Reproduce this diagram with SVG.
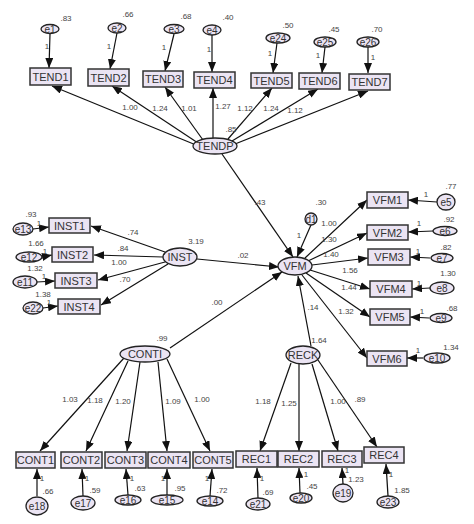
<svg xmlns="http://www.w3.org/2000/svg" width="474" height="524" viewBox="0 0 474 524">
<defs>
<marker id="ah" markerUnits="userSpaceOnUse" markerWidth="10" markerHeight="8" refX="10" refY="4" orient="auto"><path d="M0,0 L10,4 L0,8 Z" fill="#111"/></marker>
<style>
.b{fill:#ebe4f3;stroke:#333;stroke-width:1.5}
.o{fill:#ebe4f3;stroke:#222;stroke-width:1.3}
.t{font-family:"Liberation Sans",Arial,sans-serif;font-size:11px;fill:#333;text-anchor:middle;dominant-baseline:central}
.e{font-family:"Liberation Sans",Arial,sans-serif;font-size:10px;fill:#333;text-anchor:middle;dominant-baseline:central}
.l{font-family:"Liberation Sans",Arial,sans-serif;font-size:8px;fill:#444;text-anchor:middle;dominant-baseline:central}
.c line{stroke:#111;stroke-width:1.2;marker-end:url(#ah)}
</style>
</defs>
<rect width="474" height="524" fill="#fff"/>
<g class="c" id="connectors">
<line x1="50" y1="34" x2="49" y2="68"/>
<line x1="117" y1="33" x2="110" y2="69"/>
<line x1="174" y1="34" x2="165" y2="71"/>
<line x1="212" y1="35" x2="212" y2="72"/>
<line x1="277" y1="43" x2="273" y2="73"/>
<line x1="325" y1="47" x2="322" y2="73"/>
<line x1="368" y1="47" x2="368" y2="73"/>
<line x1="196" y1="145" x2="52" y2="86"/>
<line x1="198" y1="143" x2="112" y2="86"/>
<line x1="203" y1="140" x2="165" y2="87"/>
<line x1="213" y1="138" x2="213" y2="88"/>
<line x1="228" y1="139" x2="272" y2="88"/>
<line x1="232" y1="141" x2="318" y2="89"/>
<line x1="235" y1="144" x2="368" y2="91"/>
<line x1="222" y1="154" x2="293" y2="257"/>
<line x1="311" y1="225" x2="297" y2="257"/>
<line x1="197" y1="259" x2="279" y2="267"/>
<line x1="170" y1="348" x2="282" y2="272"/>
<line x1="311" y1="346" x2="298" y2="276"/>
<line x1="305" y1="258" x2="367" y2="200"/>
<line x1="308" y1="261" x2="367" y2="233"/>
<line x1="312" y1="265" x2="368" y2="258"/>
<line x1="310" y1="270" x2="370" y2="289"/>
<line x1="306" y1="273" x2="370" y2="317"/>
<line x1="302" y1="275" x2="367" y2="358"/>
<line x1="437" y1="202" x2="408" y2="200"/>
<line x1="433" y1="231" x2="408" y2="232"/>
<line x1="430" y1="258" x2="410" y2="257"/>
<line x1="430" y1="288" x2="412" y2="289"/>
<line x1="429" y1="318" x2="410" y2="317"/>
<line x1="423" y1="358" x2="407" y2="358"/>
<line x1="165" y1="252" x2="91" y2="226"/>
<line x1="163" y1="257" x2="94" y2="255"/>
<line x1="165" y1="262" x2="98" y2="280"/>
<line x1="168" y1="264" x2="101" y2="305"/>
<line x1="33" y1="229" x2="49" y2="227"/>
<line x1="42" y1="257" x2="52" y2="255"/>
<line x1="37" y1="282" x2="55" y2="281"/>
<line x1="43" y1="308" x2="58" y2="306"/>
<line x1="124" y1="358" x2="40" y2="451"/>
<line x1="128" y1="361" x2="86" y2="451"/>
<line x1="140" y1="362" x2="127" y2="451"/>
<line x1="158" y1="362" x2="167" y2="451"/>
<line x1="167" y1="359" x2="210" y2="451"/>
<line x1="37" y1="496" x2="37" y2="469"/>
<line x1="83" y1="496" x2="82" y2="469"/>
<line x1="128" y1="495" x2="126" y2="469"/>
<line x1="167" y1="495" x2="167" y2="469"/>
<line x1="210" y1="496" x2="212" y2="469"/>
<line x1="291" y1="363" x2="260" y2="451"/>
<line x1="299" y1="364" x2="299" y2="451"/>
<line x1="312" y1="364" x2="338" y2="451"/>
<line x1="318" y1="360" x2="377" y2="447"/>
<line x1="258" y1="498" x2="257" y2="468"/>
<line x1="300" y1="493" x2="299" y2="468"/>
<line x1="343" y1="484" x2="342" y2="468"/>
<line x1="388" y1="496" x2="386" y2="464"/>
</g>
<g id="TEND1"><rect class="b" x="30" y="68" width="41" height="17"/><text class="t" x="50.5" y="76.5">TEND1</text></g>
<g id="TEND2"><rect class="b" x="88" y="69" width="41" height="17"/><text class="t" x="108.5" y="77.5">TEND2</text></g>
<g id="TEND3"><rect class="b" x="143" y="71" width="40" height="16"/><text class="t" x="163" y="79">TEND3</text></g>
<g id="TEND4"><rect class="b" x="194" y="72" width="41" height="16"/><text class="t" x="214.5" y="80">TEND4</text></g>
<g id="TEND5"><rect class="b" x="251" y="73" width="41" height="15"/><text class="t" x="271.5" y="80.5">TEND5</text></g>
<g id="TEND6"><rect class="b" x="299" y="73" width="41" height="16"/><text class="t" x="319.5" y="81">TEND6</text></g>
<g id="TEND7"><rect class="b" x="349" y="74" width="41" height="16"/><text class="t" x="369.5" y="82">TEND7</text></g>
<g id="e1"><ellipse class="o" cx="50" cy="29" rx="9" ry="4.5"/><text class="e" x="50" y="29">e1</text><text class="l" x="66" y="18">.83</text><text class="l" x="47" y="46">1</text></g>
<g id="e2"><ellipse class="o" cx="117" cy="28" rx="9" ry="5"/><text class="e" x="117" y="28">e2</text><text class="l" x="128" y="14">.66</text><text class="l" x="109" y="46">1</text></g>
<g id="e3"><ellipse class="o" cx="174" cy="29" rx="10" ry="4.5"/><text class="e" x="174" y="29">e3</text><text class="l" x="186" y="16">.68</text><text class="l" x="164" y="47">1</text></g>
<g id="e4"><ellipse class="o" cx="212" cy="30" rx="9" ry="5"/><text class="e" x="212" y="30">e4</text><text class="l" x="228" y="17">.40</text><text class="l" x="209" y="49">1</text></g>
<g id="e24"><ellipse class="o" cx="278" cy="38" rx="12" ry="5"/><text class="e" x="278" y="38">e24</text><text class="l" x="288" y="25">.50</text><text class="l" x="270" y="53">1</text></g>
<g id="e25"><ellipse class="o" cx="325" cy="42" rx="11" ry="5"/><text class="e" x="325" y="42">e25</text><text class="l" x="334" y="29">.45</text><text class="l" x="318" y="55">1</text></g>
<g id="e26"><ellipse class="o" cx="368" cy="42" rx="11" ry="5"/><text class="e" x="368" y="42">e26</text><text class="l" x="377" y="29">.70</text><text class="l" x="373" y="57">1</text></g>
<g id="TENDP"><ellipse class="o" cx="215" cy="146" rx="22" ry="8"/><text class="t" x="215" y="146">TENDP</text><text class="l" x="231" y="129">.85</text></g>
<g id="tend-labels">
<text class="l" x="130" y="107">1.00</text><text class="l" x="160" y="108">1.24</text><text class="l" x="189" y="108">1.01</text><text class="l" x="223" y="106">1.27</text><text class="l" x="245" y="108">1.12</text><text class="l" x="271" y="108">1.24</text><text class="l" x="295" y="110">1.12</text>
<text class="l" x="260" y="202">.43</text><text class="l" x="243" y="255">.02</text><text class="l" x="217" y="302">.00</text><text class="l" x="313" y="307">.14</text>
</g>
<g id="VFM"><ellipse class="o" cx="295" cy="266" rx="17" ry="9"/><text class="t" x="295" y="266">VFM</text></g>
<g id="d1"><ellipse class="o" cx="311" cy="219" rx="6" ry="6"/><text class="e" x="311" y="219">d1</text><text class="l" x="321" y="202">.30</text><text class="l" x="299" y="235">1</text></g>
<g id="VFM1"><rect class="b" x="367" y="192" width="41" height="16"/><text class="t" x="387.5" y="200">VFM1</text></g>
<g id="VFM2"><rect class="b" x="367" y="225" width="41" height="15"/><text class="t" x="387.5" y="232.5">VFM2</text></g>
<g id="VFM3"><rect class="b" x="368" y="249" width="42" height="16"/><text class="t" x="389" y="257">VFM3</text></g>
<g id="VFM4"><rect class="b" x="370" y="281" width="42" height="16"/><text class="t" x="391" y="289">VFM4</text></g>
<g id="VFM5"><rect class="b" x="370" y="309" width="40" height="16"/><text class="t" x="390" y="317">VFM5</text></g>
<g id="VFM6"><rect class="b" x="367" y="351" width="40" height="15"/><text class="t" x="387" y="358.5">VFM6</text></g>
<g id="vfm-labels">
<text class="l" x="329" y="223">1.00</text><text class="l" x="329" y="239">1.30</text><text class="l" x="331" y="254">1.40</text><text class="l" x="350" y="270">1.56</text><text class="l" x="349" y="287">1.44</text><text class="l" x="346" y="311">1.32</text>
</g>
<g id="e5"><ellipse class="o" cx="446" cy="202" rx="9" ry="8"/><text class="e" x="446" y="202">e5</text><text class="l" x="451" y="186">.77</text><text class="l" x="426" y="194">1</text></g>
<g id="e6"><ellipse class="o" cx="445" cy="231" rx="12" ry="4.5"/><text class="e" x="445" y="231">e6</text><text class="l" x="449" y="219">.92</text><text class="l" x="419" y="223">1</text></g>
<g id="e7"><ellipse class="o" cx="442" cy="258" rx="11" ry="4.5"/><text class="e" x="442" y="258">e7</text><text class="l" x="446" y="247">.82</text><text class="l" x="418" y="251">1</text></g>
<g id="e8"><ellipse class="o" cx="442" cy="288" rx="12" ry="6"/><text class="e" x="442" y="288">e8</text><text class="l" x="448" y="273">1.30</text><text class="l" x="419" y="283">1</text></g>
<g id="e9"><ellipse class="o" cx="441" cy="318" rx="11" ry="4.5"/><text class="e" x="441" y="318">e9</text><text class="l" x="452" y="308">.68</text><text class="l" x="422" y="311">1</text></g>
<g id="e10"><ellipse class="o" cx="437" cy="358" rx="13" ry="5"/><text class="e" x="437" y="358">e10</text><text class="l" x="451" y="347">1.34</text><text class="l" x="418" y="350">1</text></g>
<g id="INST"><ellipse class="o" cx="180" cy="257" rx="17" ry="9"/><text class="t" x="180" y="257">INST</text><text class="l" x="196" y="241">3.19</text></g>
<g id="INST1"><rect class="b" x="49" y="218" width="41" height="15"/><text class="t" x="69.5" y="225.5">INST1</text></g>
<g id="INST2"><rect class="b" x="52" y="247" width="41" height="15"/><text class="t" x="72.5" y="254.5">INST2</text></g>
<g id="INST3"><rect class="b" x="55" y="273" width="42" height="15"/><text class="t" x="76" y="280.5">INST3</text></g>
<g id="INST4"><rect class="b" x="58" y="299" width="42" height="15"/><text class="t" x="79" y="306.5">INST4</text></g>
<g id="inst-labels"><text class="l" x="133" y="232">.74</text><text class="l" x="123" y="248">.84</text><text class="l" x="119" y="262">1.00</text><text class="l" x="125" y="279">.70</text></g>
<g id="e13"><ellipse class="o" cx="23" cy="229" rx="10" ry="6"/><text class="e" x="23" y="229">e13</text><text class="l" x="31" y="214">.93</text><text class="l" x="39" y="223">1</text></g>
<g id="e12"><ellipse class="o" cx="29" cy="257" rx="13" ry="5"/><text class="e" x="29" y="257">e12</text><text class="l" x="36" y="243">1.66</text><text class="l" x="45" y="251">1</text></g>
<g id="e11"><ellipse class="o" cx="25" cy="282" rx="12" ry="6"/><text class="e" x="25" y="282">e11</text><text class="l" x="35" y="268">1.32</text><text class="l" x="44" y="276">1</text></g>
<g id="e22"><ellipse class="o" cx="33" cy="308" rx="10" ry="6"/><text class="e" x="33" y="308">e22</text><text class="l" x="43" y="294">1.38</text><text class="l" x="49" y="302">1</text></g>
<g id="CONTI"><ellipse class="o" cx="145" cy="354" rx="25" ry="8"/><text class="t" x="145" y="354">CONTI</text><text class="l" x="162" y="338">.99</text></g>
<g id="conti-labels"><text class="l" x="70" y="399">1.03</text><text class="l" x="95" y="400">1.18</text><text class="l" x="123" y="401">1.20</text><text class="l" x="173" y="401">1.09</text><text class="l" x="202" y="399">1.00</text></g>
<g id="CONT1"><rect class="b" x="16" y="452" width="39" height="16"/><text class="t" x="35.5" y="460">CONT1</text></g>
<g id="CONT2"><rect class="b" x="61" y="452" width="41" height="16"/><text class="t" x="81.5" y="460">CONT2</text></g>
<g id="CONT3"><rect class="b" x="105" y="452" width="41" height="16"/><text class="t" x="125.5" y="460">CONT3</text></g>
<g id="CONT4"><rect class="b" x="148" y="452" width="42" height="16"/><text class="t" x="169" y="460">CONT4</text></g>
<g id="CONT5"><rect class="b" x="193" y="452" width="40" height="16"/><text class="t" x="213" y="460">CONT5</text></g>
<g id="e18"><ellipse class="o" cx="37" cy="506" rx="11" ry="9"/><text class="e" x="37" y="506">e18</text><text class="l" x="48" y="491">.66</text><text class="l" x="42" y="478">1</text></g>
<g id="e17"><ellipse class="o" cx="83" cy="503" rx="12" ry="7"/><text class="e" x="83" y="503">e17</text><text class="l" x="95" y="490">.59</text><text class="l" x="87" y="478">1</text></g>
<g id="e16"><ellipse class="o" cx="128" cy="500" rx="13" ry="5"/><text class="e" x="128" y="500">e16</text><text class="l" x="140" y="488">.63</text><text class="l" x="132" y="478">1</text></g>
<g id="e15"><ellipse class="o" cx="167" cy="500" rx="16" ry="5"/><text class="e" x="167" y="500">e15</text><text class="l" x="180" y="488">.95</text><text class="l" x="163" y="478">1</text></g>
<g id="e14"><ellipse class="o" cx="210" cy="501" rx="13" ry="5"/><text class="e" x="210" y="501">e14</text><text class="l" x="222" y="490">.72</text><text class="l" x="207" y="478">1</text></g>
<g id="RECK"><ellipse class="o" cx="303" cy="355" rx="17" ry="9"/><text class="t" x="303" y="355">RECK</text><text class="l" x="319" y="340">1.64</text></g>
<g id="reck-labels"><text class="l" x="263" y="401">1.18</text><text class="l" x="289" y="403">1.25</text><text class="l" x="338" y="401">1.00</text><text class="l" x="360" y="399">.89</text></g>
<g id="REC1"><rect class="b" x="236" y="451" width="41" height="16"/><text class="t" x="256.5" y="459">REC1</text></g>
<g id="REC2"><rect class="b" x="278" y="451" width="41" height="16"/><text class="t" x="298.5" y="459">REC2</text></g>
<g id="REC3"><rect class="b" x="322" y="451" width="40" height="16"/><text class="t" x="342" y="459">REC3</text></g>
<g id="REC4"><rect class="b" x="364" y="447" width="40" height="16"/><text class="t" x="384" y="455">REC4</text></g>
<g id="e21"><ellipse class="o" cx="258" cy="504" rx="12" ry="6"/><text class="e" x="258" y="504">e21</text><text class="l" x="268" y="492">.69</text><text class="l" x="262" y="478">1</text></g>
<g id="e20"><ellipse class="o" cx="301" cy="498" rx="11" ry="5"/><text class="e" x="301" y="498">e20</text><text class="l" x="312" y="486">.45</text><text class="l" x="306" y="474">1</text></g>
<g id="e19"><ellipse class="o" cx="343" cy="493" rx="10" ry="9"/><text class="e" x="343" y="493">e19</text><text class="l" x="356" y="479">1.23</text><text class="l" x="347" y="470">1</text></g>
<g id="e23"><ellipse class="o" cx="388" cy="502" rx="11" ry="6"/><text class="e" x="388" y="502">e23</text><text class="l" x="402" y="490">1.85</text><text class="l" x="391" y="474">1</text></g>
</svg>
